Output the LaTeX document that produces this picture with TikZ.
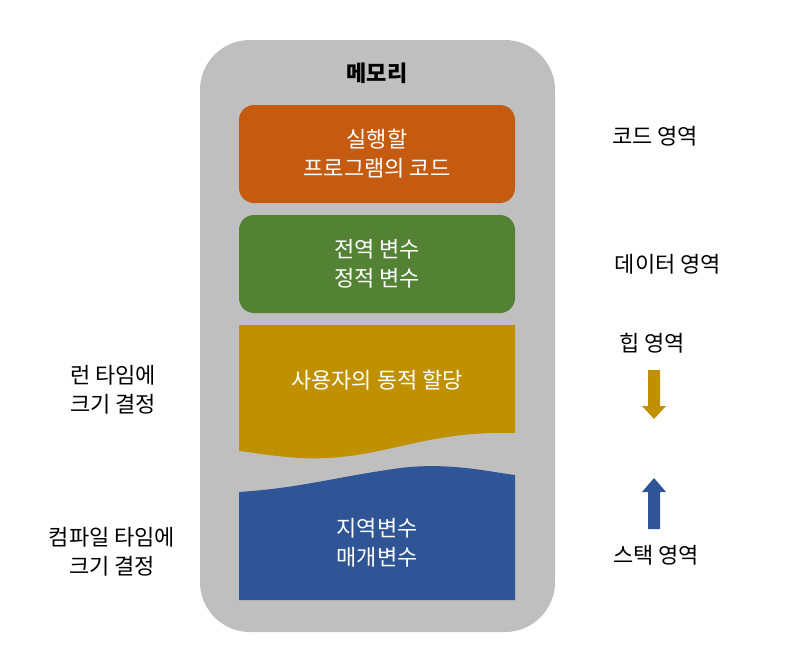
\documentclass[tikz,border=0pt]{standalone}
\usepackage{fontspec}
\newfontfamily\kr{Noto Sans CJK KR}
\begin{document}
\begin{tikzpicture}[x=1pt,y=-1pt,
  txt/.style={font=\kr\fontsize{22}{29}\selectfont,align=center},
  wtxt/.style={txt,text=white}]
\useasboundingbox (0,0) rectangle (808,662);
\definecolor{gr}{HTML}{BFBFBF}
\definecolor{org}{HTML}{C55A11}
\definecolor{grn}{HTML}{548235}
\definecolor{gld}{HTML}{BF9000}
\definecolor{blu}{HTML}{2F5597}
\fill[gr,rounded corners=50] (200,40) rectangle (555,632);
\node[txt,font=\kr\bfseries\fontsize{22}{29}\selectfont] (mem) at (377,73) {메모리};
\fill[org,rounded corners=15] (239,105) rectangle (515,203);
\node[wtxt] (code) at (377,154) {실행할\\프로그램의 코드};
\fill[grn,rounded corners=15] (239,215) rectangle (515,313);
\node[wtxt] (data) at (377,264) {전역 변수\\정적 변수};
\fill[gld] (239,325) -- (515,325) -- (515,433) .. controls (420,430) and (380,462) .. (300,458) .. controls (270,456) and (250,452) .. (239,451) -- cycle;
\node[wtxt] (heap) at (377,380) {사용자의 동적 할당};
\fill[blu] (239,492) .. controls (300,488) and (330,478) .. (400,468) .. controls (450,462) and (490,472) .. (515,475) -- (515,600) -- (239,600) -- cycle;
\node[wtxt] (stack) at (377,543) {지역변수\\매개변수};
\node[txt] (lc) at (655,136) {코드 영역};
\node[txt] (ld) at (668,264) {데이터 영역};
\node[txt] (lh) at (652,343) {힙 영역};
\node[txt] (ls) at (656,555) {스택 영역};
\node[txt] (lr) at (113,390) {런 타임에\\크기 결정};
\node[txt] (lcomp) at (112,552) {컴파일 타임에\\크기 결정};
\fill[gld] (648,370) -- (660,370) -- (660,406) -- (666,406) -- (654,419) -- (642,406) -- (648,406) -- cycle;
\fill[blu] (648,529) -- (660,529) -- (660,492) -- (666,492) -- (654,478) -- (642,492) -- (648,492) -- cycle;
\end{tikzpicture}
\end{document}
